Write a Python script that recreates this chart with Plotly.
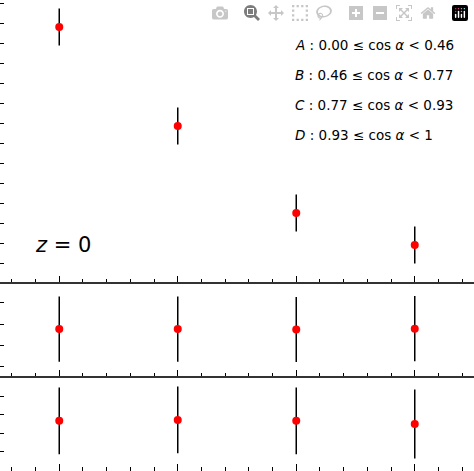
import plotly.graph_objects as go
from plotly.subplots import make_subplots

bins = [1, 2, 3, 4]
top_vals = [12.8, 7.85, 3.5, 1.9]
top_err = [0.92, 0.92, 0.92, 0.92]
mid_vals = [1.76, 1.76, 1.74, 1.78]
mid_err = [1.55, 1.55, 1.55, 1.55]
bot_vals = [1.68, 1.73, 1.68, 1.51]
bot_err = [1.8, 1.8, 1.8, 1.86]

legend_lines = [
    "<i>A</i> : 0.00 ≤ cos <i>α</i> < 0.46",
    "<i>B</i> : 0.46 ≤ cos <i>α</i> < 0.77",
    "<i>C</i> : 0.77 ≤ cos <i>α</i> < 0.93",
    "<i>D</i> : 0.93 ≤ cos <i>α</i> < 1",
]

fig = make_subplots(rows=3, cols=1, shared_xaxes=True, vertical_spacing=0,
                    row_heights=[283, 94, 94])

for r, (v, e) in enumerate([(top_vals, top_err), (mid_vals, mid_err), (bot_vals, bot_err)], start=1):
    fig.add_trace(go.Scatter(
        x=bins, y=v, mode="markers",
        marker=dict(color="red", size=8),
        error_y=dict(type="data", array=e, color="black", thickness=1.5, width=0),
        showlegend=False), row=r, col=1)

fig.update_xaxes(range=[0.5, 4.5], tickvals=bins, ticks="inside", ticklen=7,
                 minor=dict(dtick=0.2, ticks="inside", ticklen=4, tickcolor="black"),
                 showticklabels=False, showgrid=False, zeroline=False,
                 showline=True, linecolor="#333", linewidth=1, mirror=True,
                 tickcolor="black")
fig.update_yaxes(showgrid=False, zeroline=False, showticklabels=False,
                 ticks="inside", ticklen=4, tickcolor="black", dtick=1)
fig.update_yaxes(range=[0, 14.15], row=1, col=1)
fig.update_yaxes(range=[-0.52, 3.95], row=2, col=1)
fig.update_yaxes(range=[-1.03, 4.05], row=3, col=1)

for i, t in enumerate(legend_lines):
    fig.add_annotation(text=t, xref="paper", yref="paper", x=293 / 474,
                       y=1 - (45 + 30 * i) / 471, xanchor="left", yanchor="middle",
                       showarrow=False, font=dict(size=13.5, color="black"))
fig.add_annotation(text="<i>z</i> = 0", xref="paper", yref="paper", x=33 / 474,
                   y=1 - 245 / 471, xanchor="left", yanchor="middle",
                   showarrow=False, font=dict(size=21, color="black"))

fig.update_layout(width=474, height=471, margin=dict(l=0, r=0, t=0, b=0),
                  plot_bgcolor="white", paper_bgcolor="white",
                  font=dict(family="DejaVu Sans"))
fig.write_html("out.html", post_script="document.body.style.margin='0';document.body.style.overflow='hidden';")
